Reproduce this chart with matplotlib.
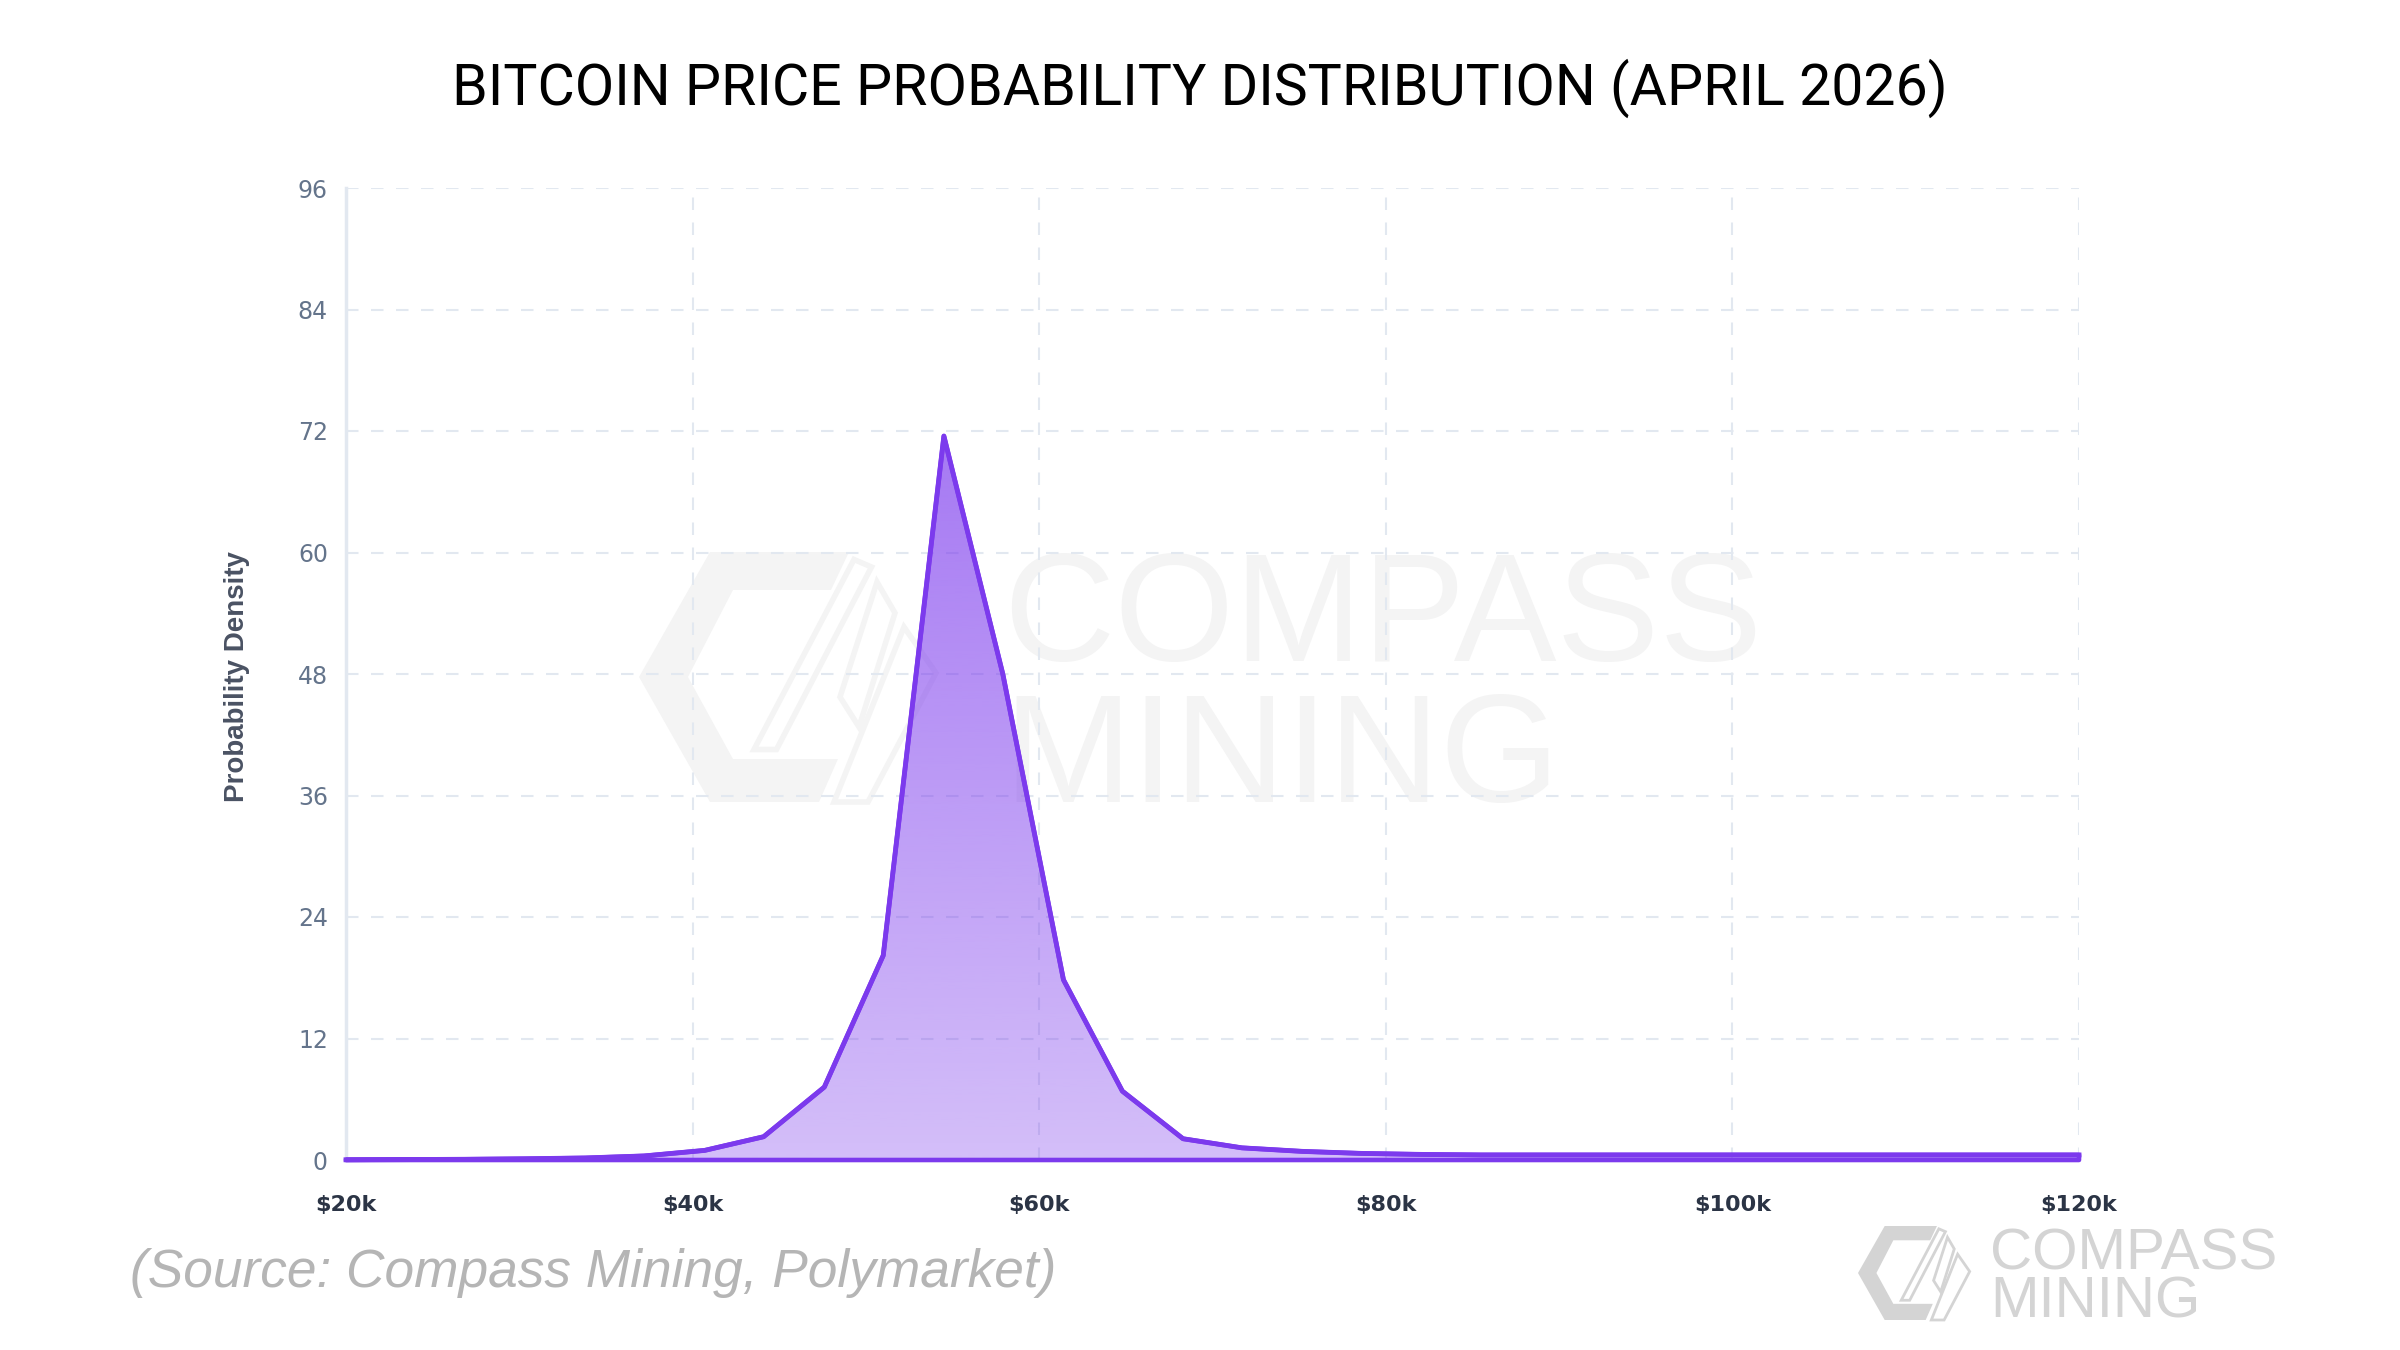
import matplotlib
matplotlib.use("Agg")
import matplotlib.pyplot as plt
import numpy as np
from matplotlib.patches import Polygon

# Daten
PRICE_K = [20.0, 23.4, 26.9, 30.3, 33.8, 37.2, 40.7, 44.1, 47.6, 51.0,
           54.5, 57.9, 61.4, 64.8, 68.3, 71.7, 75.2, 78.6, 82.1, 85.5,
           89.0, 92.4, 95.9, 99.3, 102.8, 106.2, 109.7, 113.1, 116.6, 120.0]
DENSITY = [0.02, 0.04, 0.07, 0.12, 0.2, 0.4, 0.95, 2.3, 7.2, 20.2,
           71.5, 48.0, 17.8, 6.8, 2.1, 1.2, 0.85, 0.65, 0.55, 0.5,
           0.5, 0.5, 0.5, 0.5, 0.5, 0.5, 0.5, 0.5, 0.5, 0.5]
X_TICKS = [20, 40, 60, 80, 100, 120]
X_TICK_LABELS = ["$20k", "$40k", "$60k", "$80k", "$100k", "$120k"]
Y_TICKS = [0, 12, 24, 36, 48, 60, 72, 84, 96]

TITLE = "BITCOIN PRICE PROBABILITY DISTRIBUTION (APRIL 2026)"
Y_LABEL = "Probability Density"
SOURCE = "(Source: Compass Mining, Polymarket)"
BRAND = "COMPASS\nMINING"

PURPLE = "#7c3aed"
GRID = "#e2e8f0"
TICK_GRAY = "#64748b"
WATERMARK = "#f4f4f4"
LOGO_GRAY = "#d4d4d4"

W, H = 2400, 1350

# Logo-Form, normiert auf Hoehe 1
LOGO_C = [(0.284, 0), (0.84, 0), (0.768, 0.152), (0.376, 0.152), (0.196, 0.5),
          (0.376, 0.828), (0.796, 0.828), (0.72, 1.0), (0.284, 1.0), (0, 0.5)]
LOGO_STRIPES = [
    [(0.86, 0.03), (0.93, 0.06), (0.55, 0.79), (0.46, 0.79)],
    [(0.952, 0.12), (1.024, 0.244), (0.88, 0.7), (0.804, 0.58)],
    [(1.06, 0.3), (1.188, 0.484), (0.916, 1.0), (0.78, 1.0)],
]


def px(x, y):
    return x / W, 1 - y / H


def draw_logo(fig, x0, y0, size, color, lw):
    pts = [px(x0 + a * size, y0 + b * size) for a, b in LOGO_C]
    fig.patches.append(Polygon(pts, closed=True, facecolor=color, edgecolor="none",
                               transform=fig.transFigure, zorder=-2))
    for stripe in LOGO_STRIPES:
        pts = [px(x0 + a * size, y0 + b * size) for a, b in stripe]
        fig.patches.append(Polygon(pts, closed=True, facecolor="none", edgecolor=color,
                                   linewidth=lw, transform=fig.transFigure, zorder=-2))


def main():
    fig = plt.figure(figsize=(24, 13.5), dpi=100)
    fig.patch.set_facecolor("white")
    ax = fig.add_axes([346 / W, 1 - 1160 / H, (2079 - 346) / W, (1160 - 188) / H])
    ax.set_facecolor("none")

    # Wasserzeichen im Diagramm (Grundlinie der zweiten Zeile)
    draw_logo(fig, 639, 552, 250, WATERMARK, 4)
    fig.text(*px(1003, 802), BRAND, fontsize=111, color=WATERMARK, linespacing=0.97,
             family="Liberation Sans", va="baseline", ha="left", zorder=-1)

    x = np.array(PRICE_K)
    y = np.array(DENSITY)

    # Flaeche mit Verlauf
    poly = ax.fill_between(x, 0, y, facecolor="none", edgecolor="none")
    grad = np.linspace(0.33, 0.68, 256).reshape(-1, 1)
    rgba = np.zeros((256, 1, 4))
    rgba[..., 0] = 124 / 255
    rgba[..., 1] = 58 / 255
    rgba[..., 2] = 237 / 255
    rgba[..., 3] = grad
    img = ax.imshow(rgba, extent=[20, 120, 0, max(DENSITY)], origin="lower",
                    aspect="auto", zorder=2)
    img.set_clip_path(poly.get_paths()[0], transform=ax.transData)

    outline = ax.fill_between(x, 0, y, facecolor="none", edgecolor=PURPLE,
                              linewidth=3.3, zorder=3)
    outline.set_clip_on(False)
    line, = ax.plot(x, y, color=PURPLE, linewidth=3.5, zorder=4)
    line.set_clip_on(False)

    ax.set_xlim(20, 120)
    ax.set_ylim(0, 96)
    ax.set_xticks(X_TICKS)
    ax.set_xticklabels(X_TICK_LABELS, fontsize=16, fontweight="bold", color="#2b3445",
                       family="DejaVu Sans")
    ax.set_yticks(Y_TICKS)
    ax.set_yticklabels([str(v) for v in Y_TICKS], fontsize=17, color=TICK_GRAY,
                       family="DejaVu Sans")
    ax.tick_params(axis="both", length=0)
    ax.tick_params(axis="x", pad=25)
    ax.tick_params(axis="y", pad=13)

    ax.grid(True, color=GRID, linestyle=(0, (6, 6)), linewidth=1.5)
    ax.set_axisbelow(True)
    for side in ["top", "right", "bottom"]:
        ax.spines[side].set_visible(False)
    ax.spines["left"].set_color(GRID)
    ax.spines["left"].set_linewidth(2.5)

    fig.text(237 / W, 1 - 677 / H, Y_LABEL, rotation=90, fontsize=20, color="#4a5263",
             fontweight="bold", family="Liberation Sans", ha="center", va="center")

    fig.text(0.5, 1 - 88 / H, TITLE, fontsize=41.2, color="black",
             family=["Roboto", "Liberation Sans"], ha="center", va="center")

    fig.text(130 / W, 1 - 1273 / H, SOURCE, fontsize=38.3, color="#b5b5b5",
             style="italic", family="Liberation Sans", ha="left", va="center")

    # Logo unten rechts
    draw_logo(fig, 1858, 1226, 94, LOGO_GRAY, 2)
    fig.text(*px(1990, 1318), BRAND, fontsize=42, color=LOGO_GRAY, linespacing=0.87,
             family="Liberation Sans", va="baseline", ha="left")

    fig.savefig("out.png", dpi=100)


if __name__ == "__main__":
    main()
